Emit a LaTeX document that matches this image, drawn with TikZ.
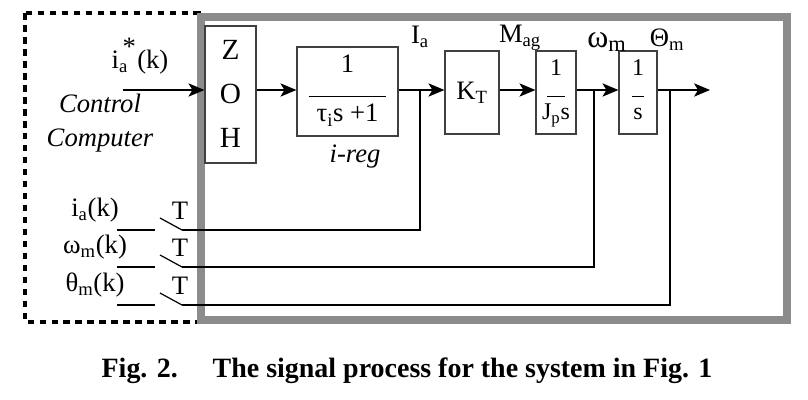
\documentclass[tikz,border=0pt]{standalone}
\usepackage{fontspec}
\setmainfont{Liberation Serif}
\usetikzlibrary{arrows.meta}
\tikzset{
  blk/.style={draw=black!75, line width=0.9pt, inner sep=0pt},
  sig/.style={draw=black, line width=0.9pt},
  arr/.style={sig, -{Stealth[length=12pt,width=10pt,inset=3pt]}},
  lbl/.style={font=\fontsize{20}{22}\selectfont, inner sep=0pt},
}
\begin{document}
\begin{tikzpicture}[x=0.0264cm, y=-0.0264cm]
\useasboundingbox (0,0) rectangle (808,400);
% frames
\draw[black, line width=2.6pt, dash pattern=on 5pt off 4pt] (25,13) rectangle (199,322);
\draw[black!45, line width=5.5pt] (201,17) rectangle (787,320);
% blocks
\node[blk, minimum width=51*0.0264cm, minimum height=137*0.0264cm] (zoh) at (230.5,94.5)
  {\fontsize{22}{33}\selectfont\begin{tabular}{@{}c@{}}Z\\O\\H\end{tabular}};
\node[blk, minimum width=101*0.0264cm, minimum height=89*0.0264cm] (ireg) at (347.5,91.5)
  {\fontsize{20}{22}\selectfont\begin{tabular}{@{}c@{}}1\\[-4pt]\rule{58pt}{0.7pt}\\[-3pt]τ\textsubscript{i}s +1\end{tabular}};
\node[lbl, font=\fontsize{20}{22}\selectfont\itshape] (iregl) at (355,157) {i-reg};
\node[blk, minimum width=54*0.0264cm, minimum height=83*0.0264cm] (kt) at (472,92.5)
  {\fontsize{20}{22}\selectfont K\textsubscript{T}};
\node[blk, minimum width=40*0.0264cm, minimum height=83*0.0264cm] (jp) at (556,92.5)
  {\fontsize{18}{20}\selectfont\begin{tabular}{@{}c@{}}1\\[-4pt]\rule{14pt}{0.7pt}\\[-3pt]J\textsubscript{p}s\end{tabular}};
\node[blk, minimum width=38*0.0264cm, minimum height=83*0.0264cm] (in) at (638,92.5)
  {\fontsize{18}{20}\selectfont\begin{tabular}{@{}c@{}}1\\[-4pt]\rule{9pt}{0.7pt}\\[-3pt]s\end{tabular}};
% signal labels
\node[lbl] (lia) at (140,56) {i\textsubscript{a}\kern-4pt\raisebox{10pt}{*}\kern1pt(k)};
\node[lbl, align=center, font=\fontsize{20}{25}\selectfont\itshape] (cc) at (100,123) {Control\\Computer};
\node[lbl] (lIa) at (420,37) {I\textsubscript{a}};
\node[lbl] (lM) at (520,38) {M\textsubscript{ag}};
\node[lbl, font=\fontsize{24}{26}\selectfont] (lw) at (607,42) {ω\textsubscript{m}};
\node[lbl] (lth) at (667,40) {Θ\textsubscript{m}};
% forward path
\coordinate (in0) at (123,90);
\coordinate (bI) at (420,90);
\coordinate (bw) at (594,90);
\coordinate (bt) at (670,90);
\coordinate (out) at (710,90);
\draw[arr] (in0) -- (in0 -| zoh.west);
\draw[arr] (in0 -| zoh.east) -- (in0 -| ireg.west);
\draw[arr] (in0 -| ireg.east) -- (in0 -| kt.west);
\draw[arr] (in0 -| kt.east) -- (in0 -| jp.west);
\draw[arr] (in0 -| jp.east) -- (in0 -| in.west);
\draw[arr] (in0 -| in.east) -- (out);
% samplers and feedback
\foreach \y/\lab/\b [count=\i] in {230/{i\textsubscript{a}(k)}/bI, 267/{ω\textsubscript{m}(k)}/bw, 305/{θ\textsubscript{m}(k)}/bt}{
  \node[lbl] (s\i) at (95,\y-20) {\lab};
  \node[lbl] (t\i) at (180,\y-19) {T};
  \coordinate (a\i) at (117,\y);
  \coordinate (b\i) at (155,\y);
  \coordinate (c\i) at (160,\y-12);
  \coordinate (d\i) at (182,\y);
  \draw[sig] (a\i) -- (b\i);
  \draw[sig] (c\i) -- (d\i);
  \draw[sig] (d\i) -| (\b);
}
% caption
\node[font=\fontsize{21}{24}\selectfont\bfseries] (cap) at (407,371)
  {Fig. 2.\quad\ The signal process for the system in Fig. 1};
\end{tikzpicture}
\end{document}
